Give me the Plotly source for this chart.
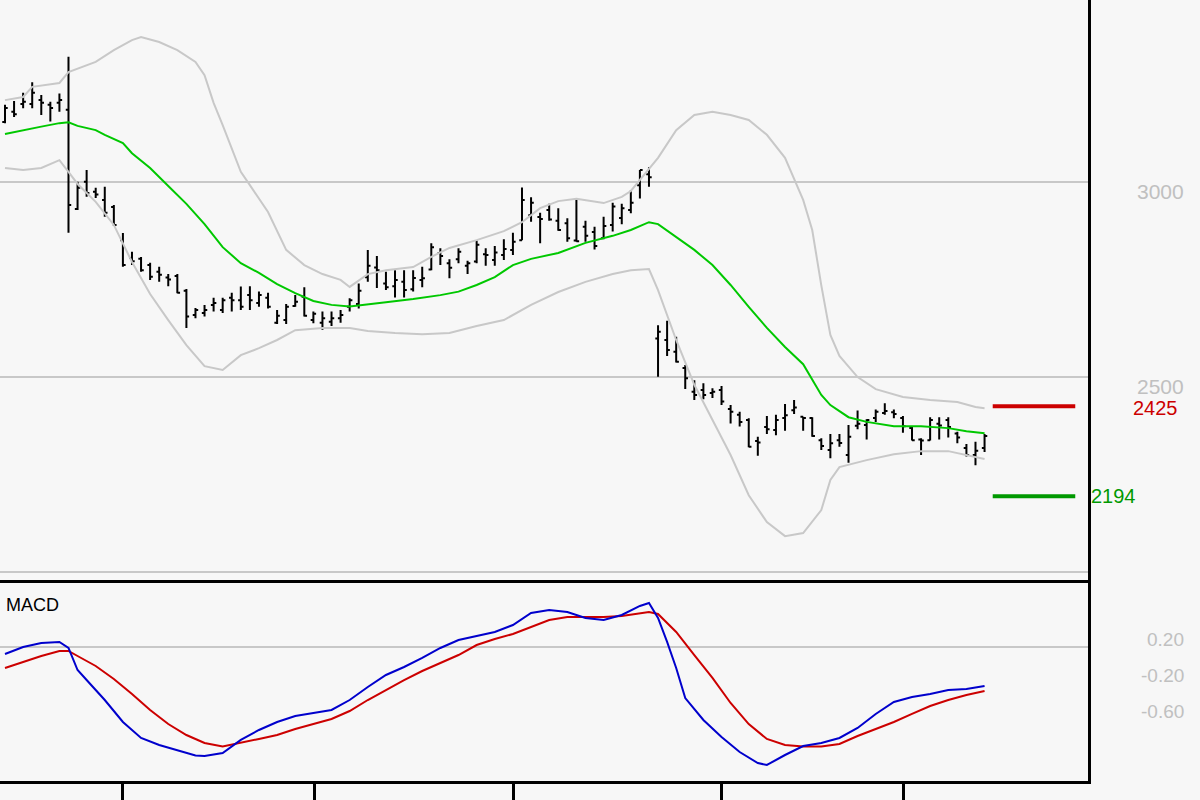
import plotly.graph_objects as go

# ---------------- data ----------------
opens = [3154,3180,3200,3200,3210,3198,3203,3185,2931,3001,2975,2954,2936,2851,2805,2803,2787,2770,2755,2759,
         2721,2659,2664,2685,2672,2703,2697,2710,2690,2703,2639,2646,2682,2706,2646,2639,2642,2651,2680,2687,
         2756,2781,2740,2733,2744,2725,2749,2776,2818,2792,2802,2785,2796,2815,2800,2813,2826,2851,2915,2910,
         2928,2901,2894,2850,2885,2872,2856,2890,2908,2928,2992,3020,2599,2595,2565,2523,2462,2467,2459,2467,
         2418,2403,2390,2336,2372,2364,2395,2415,2398,2395,2338,2313,2338,2300,2375,2377,2395,2408,2410,2395,
         2369,2340,2338,2380,2390,2355,2318,2300,2318]
highs = [3198,3208,3229,3256,3223,3206,3227,3321,3001,3031,2985,2988,2941,2869,2821,2808,2793,2783,2764,2764,
         2726,2677,2685,2703,2703,2716,2732,2733,2719,2716,2672,2687,2710,2730,2668,2668,2668,2672,2702,2740,
         2826,2810,2770,2774,2774,2774,2783,2843,2830,2802,2830,2798,2850,2830,2836,2853,2870,2986,2961,2921,
         2944,2933,2907,2954,2901,2885,2911,2947,2944,2979,3031,3038,2633,2644,2603,2531,2492,2484,2471,2477,
         2428,2411,2394,2347,2400,2403,2431,2441,2398,2397,2343,2354,2354,2377,2414,2392,2417,2433,2417,2400,
         2374,2343,2397,2397,2397,2360,2328,2334,2354]
lows = [3151,3167,3189,3189,3172,3155,3180,2870,2928,2962,2959,2911,2887,2783,2787,2770,2749,2744,2733,2715,
        2626,2651,2655,2668,2664,2668,2672,2672,2680,2676,2636,2636,2680,2655,2638,2621,2631,2639,2668,2676,
        2744,2728,2723,2704,2704,2719,2730,2774,2787,2753,2792,2764,2792,2785,2785,2800,2813,2851,2898,2843,
        2901,2875,2847,2847,2847,2827,2853,2873,2892,2920,2958,2988,2501,2554,2537,2469,2441,2443,2446,2428,
        2381,2373,2320,2298,2354,2351,2362,2405,2362,2347,2313,2292,2321,2280,2366,2340,2385,2403,2394,2357,
        2337,2300,2337,2340,2345,2330,2296,2274,2308]
closes = [3190,3174,3206,3229,3203,3190,3210,2941,2985,2972,2968,2921,2890,2787,2797,2774,2757,2762,2750,2716,
          2655,2672,2672,2690,2697,2697,2680,2697,2710,2680,2657,2680,2693,2657,2662,2651,2651,2659,2697,2721,
          2785,2774,2730,2749,2723,2754,2753,2833,2810,2780,2821,2792,2839,2813,2819,2828,2847,2954,2947,2905,
          2904,2877,2856,2848,2862,2836,2887,2937,2933,2947,3031,3012,2616,2569,2539,2497,2454,2454,2462,2437,
          2411,2385,2321,2332,2366,2390,2402,2422,2395,2349,2323,2330,2331,2347,2380,2390,2411,2413,2405,2374,
          2338,2337,2390,2376,2372,2345,2300,2311,2349]
bar_index = list(range(len(closes)))

# Bollinger bands / 20-period average (bar index, price)
upper_idx = [0,2,3,6,7,10,12,14,15,17,19,21,22,23,24,25,26,27,29,31,33,35,37,38,40,42,45,47,49,52,55,57,59,61,63,66,68,69,70,71,72,74,76,78,80,82,84,86,88,89,90,91,92,94,96,99,102,105,107,108]
upper_val = [3210,3218,3244,3254,3282,3308,3338,3364,3372,3359,3338,3308,3274,3203,3146,3087,3026,2992,2923,2826,2787,2764,2749,2731,2764,2774,2782,2808,2831,2851,2874,2897,2933,2951,2957,2946,2962,2977,3005,3036,3062,3133,3172,3180,3172,3159,3121,3062,2954,2877,2735,2608,2554,2500,2469,2449,2441,2436,2423,2420]
mid_idx = [0,2,4,6,7,8,10,11,13,14,16,18,20,22,24,26,28,30,32,34,36,38,40,42,45,48,50,52,54,56,58,61,64,67,69,71,72,74,76,78,80,82,84,86,88,90,91,93,95,98,101,104,106,108]
mid_val = [3123,3133,3142,3151,3153,3144,3133,3121,3100,3074,3036,2990,2944,2892,2833,2792,2767,2738,2715,2695,2685,2681,2687,2692,2700,2710,2719,2736,2756,2787,2803,2818,2844,2862,2877,2897,2892,2859,2826,2787,2736,2680,2626,2577,2533,2454,2428,2397,2385,2374,2374,2369,2361,2356]
lower_idx = [0,2,4,6,7,8,10,12,14,16,18,20,22,24,26,28,30,32,35,38,40,43,46,49,52,55,58,61,64,67,69,71,72,74,76,78,80,82,84,86,88,90,91,92,95,98,101,104,106,108]
lower_val = [3036,3031,3036,3056,3026,2995,2949,2890,2795,2713,2646,2582,2528,2518,2556,2574,2595,2620,2626,2626,2618,2613,2610,2613,2631,2646,2685,2718,2744,2764,2774,2777,2723,2595,2480,2390,2300,2197,2128,2092,2100,2159,2236,2269,2287,2302,2310,2310,2300,2290]

# MACD and signal
macd_idx = [0,2,4,6,7,8,9,11,13,15,17,19,21,22,24,26,28,30,32,34,36,38,40,42,44,46,48,50,52,54,56,58,60,62,64,66,68,70,71,72,73,74,75,77,79,81,83,84,86,88,90,92,94,96,98,100,102,104,106,108]
macd_val = [-0.078,0.0,0.044,0.056,-0.011,-0.256,-0.367,-0.589,-0.833,-1.011,-1.089,-1.144,-1.206,-1.211,-1.178,-1.033,-0.922,-0.833,-0.767,-0.733,-0.700,-0.589,-0.444,-0.311,-0.222,-0.122,-0.011,0.078,0.122,0.167,0.244,0.378,0.411,0.389,0.322,0.300,0.356,0.456,0.489,0.322,0.056,-0.233,-0.567,-0.811,-1.000,-1.167,-1.289,-1.311,-1.200,-1.100,-1.067,-1.011,-0.900,-0.744,-0.611,-0.556,-0.522,-0.478,-0.467,-0.433]
sig_idx = [0,2,4,6,7,8,10,12,14,16,18,20,22,24,26,28,30,32,34,36,38,40,42,44,46,48,50,52,54,56,58,60,62,64,66,68,70,71,72,74,76,78,80,82,84,86,88,90,92,94,96,98,100,102,104,106,108]
sig_val = [-0.233,-0.167,-0.100,-0.044,-0.044,-0.100,-0.211,-0.356,-0.522,-0.700,-0.856,-0.978,-1.067,-1.106,-1.067,-1.022,-0.978,-0.911,-0.856,-0.800,-0.711,-0.589,-0.478,-0.367,-0.267,-0.178,-0.089,0.022,0.089,0.144,0.222,0.300,0.333,0.333,0.333,0.344,0.378,0.389,0.367,0.167,-0.089,-0.344,-0.622,-0.856,-1.022,-1.089,-1.106,-1.106,-1.078,-0.989,-0.911,-0.833,-0.744,-0.656,-0.589,-0.533,-0.489]

# support / resistance levels
resistance = 2425
support = 2194
level_span = [108.9, 118.0]

price_ticks = [2000, 2500, 3000]
price_ticktext = ["", "2500", "3000"]
macd_ticks = [0.2, -0.2, -0.6]
macd_ticktext = ["0.20", "-0.20", "-0.60"]
month_ticks = [12.9, 34.07, 56.1, 79.05, 99.1]

# ---------------- figure ----------------
BG = "#f7f7f7"
GRID = "#c8c8c8"
W, H = 1200, 800
plot_right = 1088 / W
price_top, price_bottom = 0, 580
macd_top, macd_bottom = 582, 781

def price_at(py):
    return 3466.7 - 2.564 * py

def macd_at(py):
    return (647 - py) / 90.0

xr = [-0.551, -0.551 + 1088 / 9.07]

fig = go.Figure()

band_style = dict(color=GRID, width=2)
fig.add_trace(go.Scatter(x=upper_idx, y=upper_val, mode="lines", line=band_style, xaxis="x", yaxis="y", hoverinfo="skip"))
fig.add_trace(go.Scatter(x=lower_idx, y=lower_val, mode="lines", line=band_style, xaxis="x", yaxis="y", hoverinfo="skip"))
fig.add_trace(go.Scatter(x=mid_idx, y=mid_val, mode="lines", line=dict(color="#00c800", width=2), xaxis="x", yaxis="y"))

fig.add_trace(go.Ohlc(x=bar_index, open=opens, high=highs, low=lows, close=closes,
                      increasing=dict(line=dict(color="black", width=2)),
                      decreasing=dict(line=dict(color="black", width=2)),
                      tickwidth=0.3, xaxis="x", yaxis="y"))

fig.add_trace(go.Scatter(x=level_span, y=[resistance, resistance], mode="lines",
                         line=dict(color="#cc0000", width=4), xaxis="x", yaxis="y"))
fig.add_trace(go.Scatter(x=level_span, y=[support, support], mode="lines",
                         line=dict(color="#009900", width=4), xaxis="x", yaxis="y"))

fig.add_trace(go.Scatter(x=sig_idx, y=sig_val, mode="lines", line=dict(color="#cc0000", width=2), xaxis="x2", yaxis="y2"))
fig.add_trace(go.Scatter(x=macd_idx, y=macd_val, mode="lines", line=dict(color="#0000cc", width=2), xaxis="x2", yaxis="y2"))

label_font = dict(family="Liberation Sans, Arial", size=21, color="#c0c0c0")
annotations = []
for v, t in zip(price_ticks, price_ticktext):
    if t:
        annotations.append(dict(x=1186 / W, xref="paper", y=v, yref="y", text=t, showarrow=False,
                                xanchor="right", yanchor="middle", yshift=-9, font=label_font))
for v, t in zip(macd_ticks, macd_ticktext):
    annotations.append(dict(x=1186 / W, xref="paper", y=v, yref="y2", text=t, showarrow=False,
                            xanchor="right", yanchor="middle", yshift=-10, font=dict(family="Liberation Sans, Arial", size=19, color="#c0c0c0")))
annotations.append(dict(x=1180 / W, xref="paper", y=resistance, yref="y", text=str(resistance), showarrow=False,
                        xanchor="right", yanchor="middle", yshift=-2, font=dict(family="Liberation Sans, Arial", size=20, color="#cc0000")))
annotations.append(dict(x=1089 / W, xref="paper", y=support, yref="y", text=str(support), showarrow=False,
                        xanchor="left", yanchor="middle", font=dict(family="Liberation Sans, Arial", size=20, color="#009900")))
annotations.append(dict(x=4 / W, xref="paper", y=1 - 605 / H, yref="paper", text="MACD", showarrow=False,
                        xanchor="left", yanchor="middle", font=dict(family="Liberation Sans, Arial", size=18, color="black")))

fig.update_layout(
    width=W, height=H,
    margin=dict(l=0, r=0, t=0, b=0),
    paper_bgcolor=BG, plot_bgcolor=BG,
    showlegend=False,
    annotations=annotations,
    xaxis=dict(domain=[0, plot_right], range=xr, anchor="y", showgrid=False, zeroline=False,
               showticklabels=False, ticks="", showline=True, linecolor="black", linewidth=3,
               rangeslider=dict(visible=False), fixedrange=True),
    yaxis=dict(domain=[1 - price_bottom / H, 1 - price_top / H],
               range=[price_at(price_bottom), price_at(price_top)], side="right", anchor="x",
               tickvals=price_ticks, showticklabels=False, ticks="", showgrid=True, gridcolor=GRID,
               gridwidth=2, zeroline=False, showline=True, linecolor="black", linewidth=3),
    xaxis2=dict(domain=[0, plot_right], range=xr, anchor="y2", showgrid=False, zeroline=False,
                tickvals=month_ticks, ticktext=[""] * len(month_ticks), ticks="outside", ticklen=20,
                tickwidth=3, tickcolor="black", showline=True, linecolor="black", linewidth=3),
    yaxis2=dict(domain=[1 - macd_bottom / H, 1 - macd_top / H],
                range=[macd_at(macd_bottom), macd_at(macd_top)], side="right", anchor="x2",
                tickvals=[0], showticklabels=False, ticks="", showgrid=True, gridcolor=GRID, gridwidth=2,
                zeroline=False, showline=True, linecolor="black", linewidth=3),
)

fig.write_html("out.html")
